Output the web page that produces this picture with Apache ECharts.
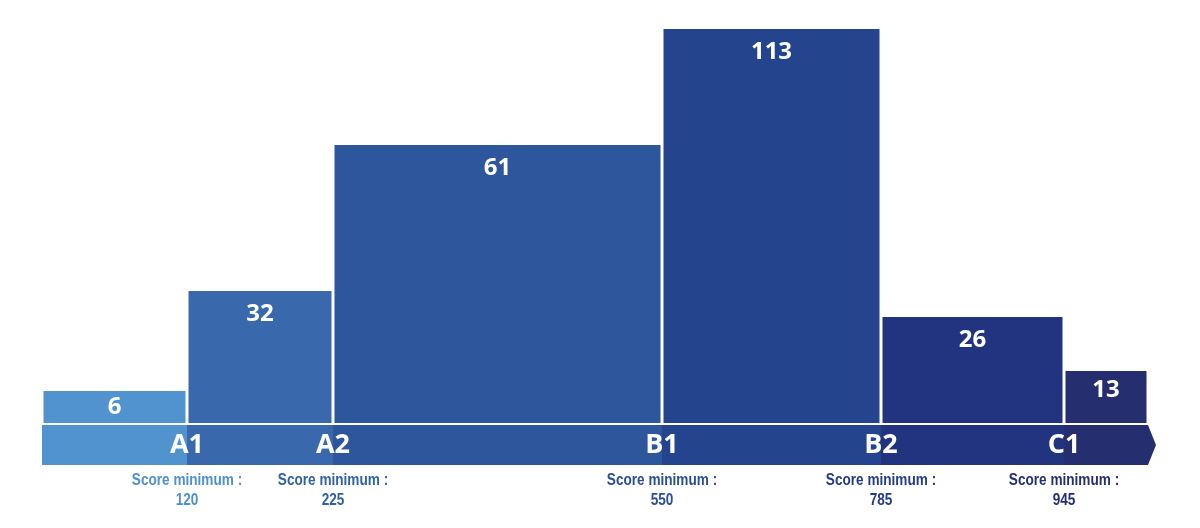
<!DOCTYPE html>
<html>
<head>
<meta charset="utf-8">
<script src="https://cdn.jsdelivr.net/npm/echarts@6/dist/echarts.min.js"></script>
<style>
html,body{margin:0;padding:0;background:#fff;}
#chart{width:1200px;height:528px;}
</style>
</head>
<body>
<div id="chart"></div>
<script>
// ---- data ----
// Bin edges along the level scale (start, A1, A2, B1, B2, C1, end)
const binEdges = [42, 187, 333, 662, 881, 1064, 1148];
// Number of candidates in each bin (shown labels)
const counts = [6, 32, 61, 113, 26, 13];
// Visual bar heights
const barHeights = [33, 133, 279, 395, 107, 53];
// Level names at the bin edges
const levels = ['A1', 'A2', 'B1', 'B2', 'C1'];
// Minimum score for each level
const minScores = [120, 225, 550, 785, 945];
const scoreCaption = 'Score minimum :';

// ---- styles ----
const binColors = ['#5093cf', '#3a68ad', '#2e569c', '#25448e', '#223480', '#252f6f'];
const levelTextColors = ['#4f8fcd', '#3060a6', '#2b4d98', '#233a87', '#242f73'];
const captionFont = 'bold 17px "Liberation Sans", Arial, sans-serif';

const barData = counts.map((c, i) => [binEdges[i], binEdges[i + 1], barHeights[i], c, i]);
const bandData = counts.map((c, i) => [binEdges[i], binEdges[i + 1], i]);
const levelData = levels.map((l, i) => [binEdges[i + 1], l, minScores[i], i]);

const chart = echarts.init(document.getElementById('chart'));
chart.setOption({
  animation: false,
  grid: {left: 0, right: 0, top: 0, bottom: 0},
  xAxis: {type: 'value', min: 0, max: 1200, show: false},
  yAxis: {type: 'value', min: -104, max: 424, show: false},
  series: [
    {
      type: 'custom',
      data: barData,
      renderItem: function (params, api) {
        const x0 = api.value(0), x1 = api.value(1), h = api.value(2);
        const idx = api.value(4);
        const pTop = api.coord([x0, h]);
        const pBot = api.coord([x1, 0]);
        const left = pTop[0] + 1.5, right = pBot[0] - 1.5;
        const top = pTop[1], bottom = pBot[1] - 1;
        const labelOffset = Math.min(23.5, 10.5 + (bottom - top) * 0.17);
        return {
          type: 'group',
          children: [
            {type: 'rect', shape: {x: left, y: top, width: right - left, height: bottom - top},
             style: {fill: binColors[idx]}},
            {type: 'text', style: {text: String(api.value(3)), x: (left + right) / 2, y: top + labelOffset,
             align: 'center', verticalAlign: 'middle', fill: '#ffffff',
             font: 'bold 24px "Open Sans", sans-serif'}}
          ]
        };
      }
    },
    {
      type: 'custom',
      data: bandData,
      renderItem: function (params, api) {
        const x0 = api.value(0), x1 = api.value(1), idx = api.value(2);
        const pA = api.coord([x0, 0]);
        const pB = api.coord([x1, 0]);
        const top = pA[1] + 1, bottom = top + 40;
        if (idx === counts.length - 1) {
          const tip = pB[0] + 8;
          return {type: 'polygon', shape: {points: [[pA[0], top], [pB[0], top], [tip, (top + bottom) / 2], [pB[0], bottom], [pA[0], bottom]]},
            style: {fill: binColors[idx]}};
        }
        return {type: 'rect', shape: {x: pA[0], y: top, width: pB[0] - pA[0], height: bottom - top},
          style: {fill: binColors[idx]}};
      }
    },
    {
      type: 'custom',
      data: levelData,
      z: 5,
      renderItem: function (params, api) {
        const x = api.value(0), idx = api.value(3);
        const p = api.coord([x, 0]);
        const bandMid = p[1] + 21;
        return {
          type: 'group',
          children: [
            {type: 'text', style: {text: levels[idx], x: p[0], y: bandMid, align: 'center', verticalAlign: 'middle',
             fill: '#ffffff', font: 'bold 27px "Open Sans", sans-serif'}},
            {type: 'text', x: p[0], y: p[1] + 56, scaleX: 0.8,
             style: {text: scoreCaption, x: 0, y: 0, align: 'center', verticalAlign: 'middle',
             fill: levelTextColors[idx], font: captionFont}},
            {type: 'text', x: p[0], y: p[1] + 76, scaleX: 0.8,
             style: {text: String(minScores[idx]), x: 0, y: 0, align: 'center', verticalAlign: 'middle',
             fill: levelTextColors[idx], font: captionFont}}
          ]
        };
      }
    }
  ]
});
</script>
</body>
</html>
